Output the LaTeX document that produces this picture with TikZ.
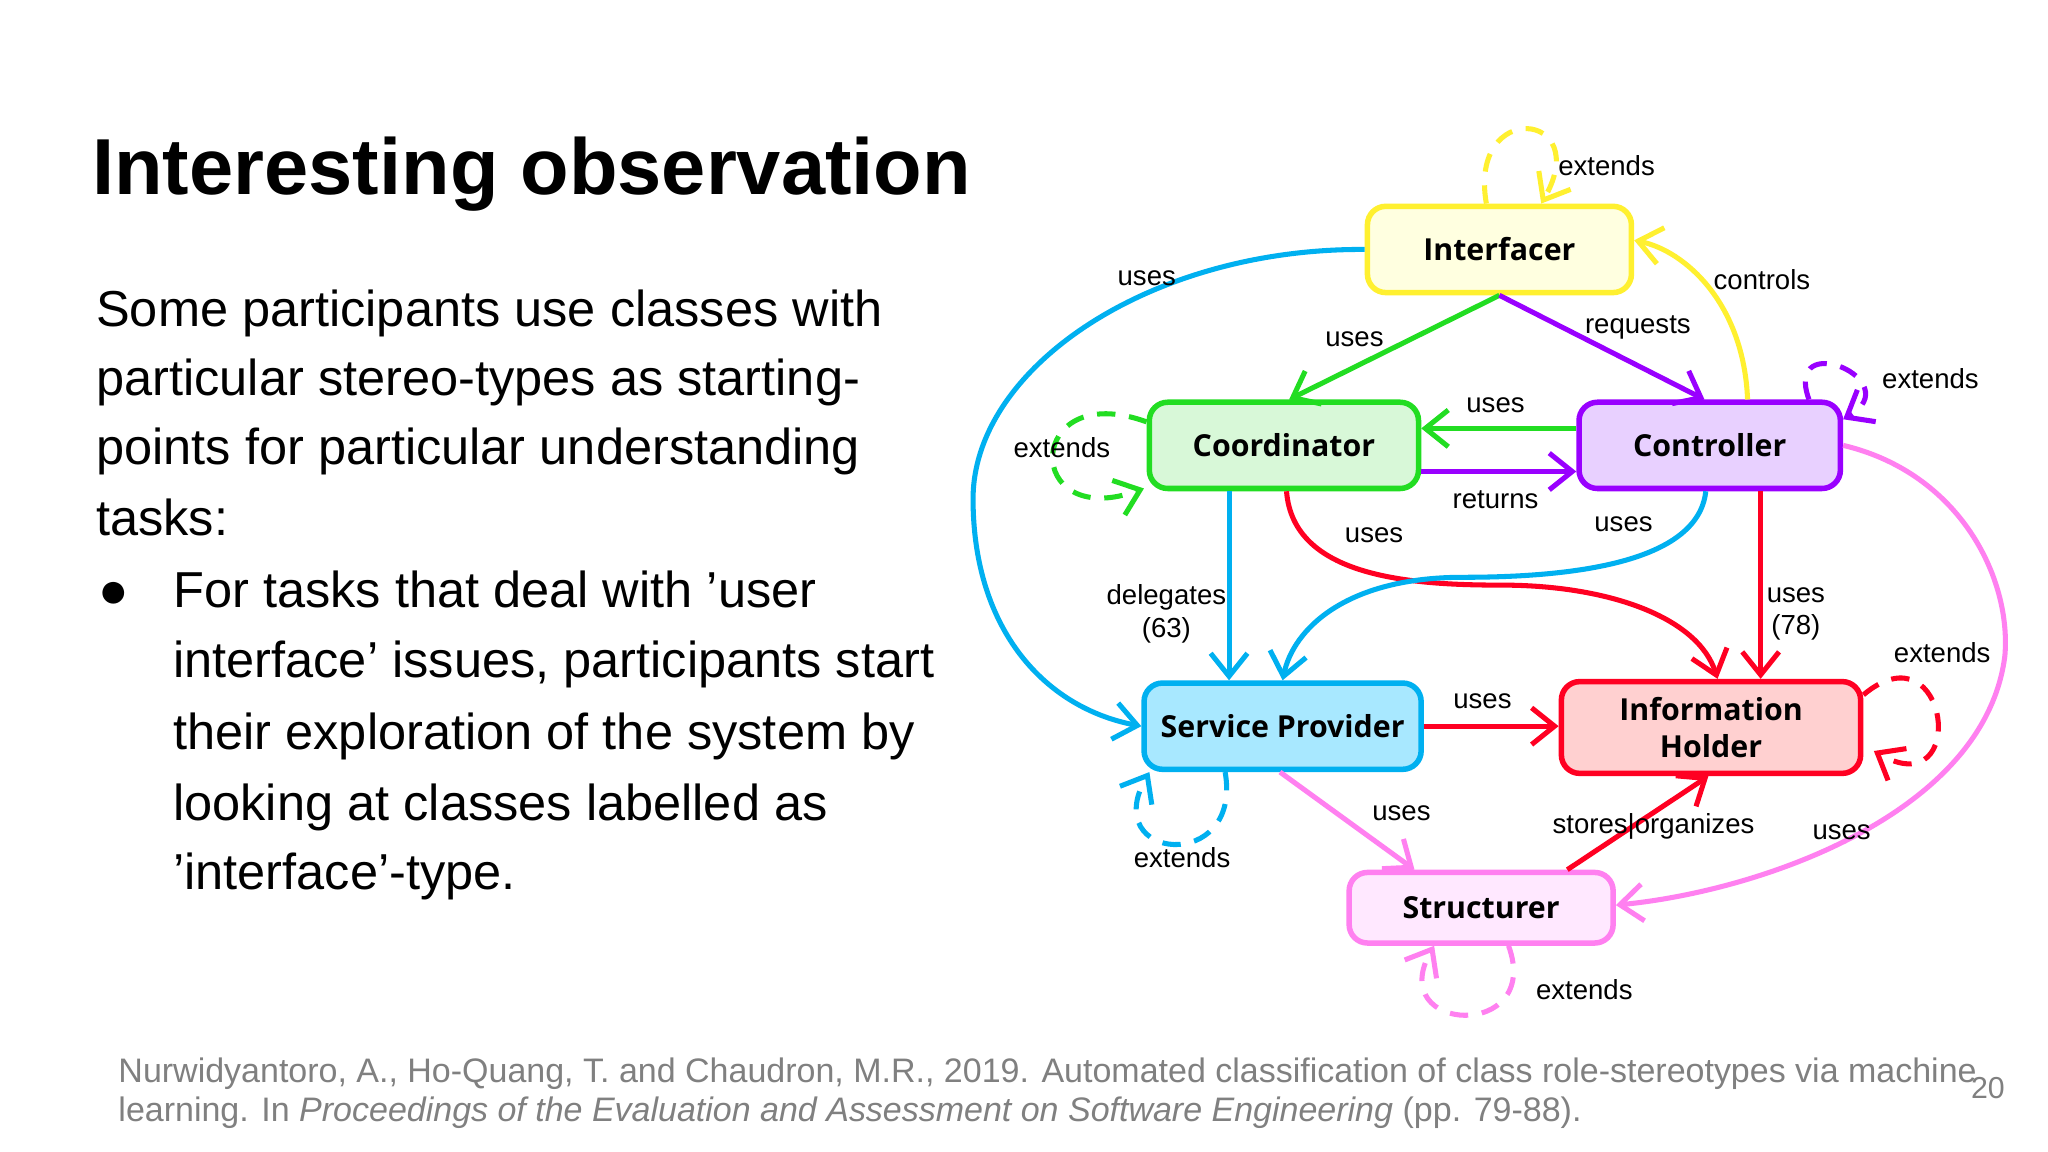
\documentclass[tikz,border=0pt]{standalone}
\usepackage{fontspec}
\setmainfont{Liberation Sans}
\newfontfamily\nodefont{Open Sans}
\usetikzlibrary{arrows.meta,calc}
\definecolor{cY}{HTML}{FFF030}\definecolor{fY}{HTML}{FFFFE0}
\definecolor{cG}{HTML}{22DD22}\definecolor{fG}{HTML}{D8F8D8}
\definecolor{cP}{HTML}{9900FF}\definecolor{fP}{HTML}{E8D0FF}
\definecolor{cC}{HTML}{00B0F0}\definecolor{fC}{HTML}{A8E8FF}
\definecolor{cR}{HTML}{FF0022}\definecolor{fR}{HTML}{FFD0D0}
\definecolor{cK}{HTML}{FF80F0}\definecolor{fK}{HTML}{FFE8FF}
\definecolor{gr}{HTML}{808080}
\tikzset{
 cls/.style={draw=#1,line width=1.2pt,rounded corners=4pt,minimum width=2.02cm,minimum height=0.66cm,font=\nodefont\bfseries\fontsize{6.6}{7.6}\selectfont,align=center},
 con/.style={draw=#1,line width=1.1pt,-{Straight Barb[length=5pt,width=8pt]}},
 lp/.style={con=#1,dashed,dash pattern=on 4pt off 3pt,looseness=5},
 lbl/.style={font=\fontsize{6}{7}\selectfont,align=center},
 body/.style={anchor=base west,inner sep=0pt,font=\fontsize{11}{13}\selectfont},
 foot/.style={anchor=base west,inner sep=0pt,text=gr,font=\fontsize{7.4}{9}\selectfont}
}
\begin{document}
\begin{tikzpicture}[x=0.01cm,y=0.01cm]
\useasboundingbox[fill=white] (0,0) rectangle (1568,882);
\node[anchor=base west,inner sep=0pt,font=\bfseries\fontsize{17.3}{20}\selectfont] (title) at (70,733) {Interesting observation};
\node[body] (b1) at (73,632) {Some participants use classes with};
\node[body] (b2) at (73,579) {particular stereo-types as starting-};
\node[body] (b3) at (73,526) {points for particular understanding};
\node[body] (b4) at (73,472) {tasks:};
\node[body] (bul) at (75,417) {\char"25CF};
\node[body] (b5) at (132,417) {For tasks that deal with ’user};
\node[body] (b6) at (132,363) {interface’ issues, participants start};
\node[body] (b7) at (132,308) {their exploration of the system by};
\node[body] (b8) at (132,254) {looking at classes labelled as};
\node[body] (b9) at (132,201) {’interface’-type.};
\node[foot] (f1) at (90,53) {Nurwidyantoro, A., Ho-Quang, T. and Chaudron, M.R., 2019. Automated classification of class role-stereotypes via machine};
\node[foot] (f2) at (90,23) {learning. In \textit{Proceedings of the Evaluation and Assessment on Software Engineering} (pp. 79-88).};
\node[foot,anchor=base,font=\fontsize{6.6}{8}\selectfont] (pg) at (1522,41) {20};

\node[cls=cY,fill=fY] (I) at (1148,691) {Interfacer};
\node[cls=cG,fill=fG,minimum width=2.06cm] (C) at (983,541) {Coordinator};
\node[cls=cP,fill=fP,minimum width=2.0cm] (T) at (1309,541) {Controller};
\node[cls=cC,fill=fC,minimum width=2.12cm] (S) at (982,326) {Service Provider};
\node[cls=cR,fill=fR,minimum width=2.29cm,minimum height=0.64cm,font=\nodefont\bfseries\fontsize{6.6}{8.2}\selectfont] (H) at (1310,325) {Information\\Holder};
\node[cls=cK,fill=fK,minimum height=0.54cm] (R) at (1134,187) {Structurer};

% straight edges
\draw[con=cG] (I.south) -- ($(C.north)+(4,0)$);
\draw[con=cP] (I.south) -- ($(T.north)+(-4,0)$);
\draw[con=cG] ($(T.west)+(0,13)$) -- ($(C.east)+(0,13)$);
\draw[con=cP] ($(C.east)+(0,-20)$) -- ($(T.west)+(0,-20)$);
\draw[con=cC] ($(C.south)+(-42,0)$) -- ($(S.north)+(-41,0)$);
\draw[con=cR] ($(T.south)+(39,0)$) -- ($(H.north)+(38,0)$);
\draw[con=cR] (S.east) -- ($(H.west)+(0,1)$);
\draw[con=cK] ($(S.south)+(-2,0)$) -- ($(R.north)+(-51,0)$);
\draw[con=cR] ($(R.north)+(66,0)$) -- ($(H.south)+(-2,0)$);
% curved edges
\draw[con=cY] ($(T.north)+(29,0)$) .. controls (1335,650) and (1290,690) .. ($(I.east)+(0,7)$);
\draw[con=cC] (I.west) .. controls (880,692) and (745,600) .. (745,500) .. controls (745,400) and (800,340) .. (S.west);
\draw[con=cR] ($(C.south)+(2,0)$) .. controls (990,440) and (1080,434) .. (1150,434) .. controls (1230,434) and (1300,410) .. ($(H.north)+(5,0)$);
\draw[con=cC] ($(T.south)+(-3,0)$) .. controls (1300,450) and (1200,440) .. (1120,440) .. controls (1030,440) and (990,400) .. (S.north);
\draw[con=cK] (T.east) .. controls (1500,520) and (1540,440) .. (1535,380) .. controls (1520,260) and (1350,200) .. ($(R.east)+(0,2)$);
% self loops
\draw[lp=cY] ($(I.north)+(-10,0)$) to[out=100,in=60] ($(I.north)+(32,0)$);
\draw[lp=cG] ($(C.west)+(0,18)$) to[out=160,in=200] ($(C.west)+(-2,-33)$);
\draw[lp=cP] ($(T.north)+(76,0)$) to[out=110,in=30] ($(T.east)+(0,20)$);
\draw[lp=cR] ($(H.east)+(0,25)$) to[out=40,in=-30] ($(H.east)+(8,-18)$);
\draw[lp=cC,looseness=3.5] ($(S.south)+(-44,0)$) to[out=-80,in=-120] ($(S.south)+(-102,0)$);
\draw[lp=cK,looseness=3.5] ($(R.south)+(21,0)$) to[out=-70,in=-120] ($(R.south)+(-36,0)$);
% labels
\node[lbl] (l1) at (1230,755) {extends};
\node[lbl] (l2) at (813,539) {extends};
\node[lbl] (l3) at (1478,592) {extends};
\node[lbl] (l4) at (1487,382) {extends};
\node[lbl] (l5) at (905,225) {extends};
\node[lbl] (l6) at (1213,124) {extends};
\node[lbl] (l7) at (1037,622) {uses};
\node[lbl] (l8) at (1254,631) {requests};
\node[lbl] (l9) at (1349,668) {controls};
\node[lbl] (l10) at (878,669) {uses};
\node[lbl] (l11) at (1145,572) {uses};
\node[lbl] (l12) at (1145,499) {returns};
\node[lbl] (l13) at (893,412) {delegates\\(63)};
\node[lbl] (l14) at (1052,472) {uses};
\node[lbl] (l15) at (1243,481) {uses};
\node[lbl] (l16) at (1375,412) {uses\\(78)};
\node[lbl] (l17) at (1410,245) {uses};
\node[lbl] (l18) at (1135,345) {uses};
\node[lbl] (l19) at (1073,259) {uses};
\node[lbl] (l20) at (1266,249) {stores|organizes};
\end{tikzpicture}
\end{document}
